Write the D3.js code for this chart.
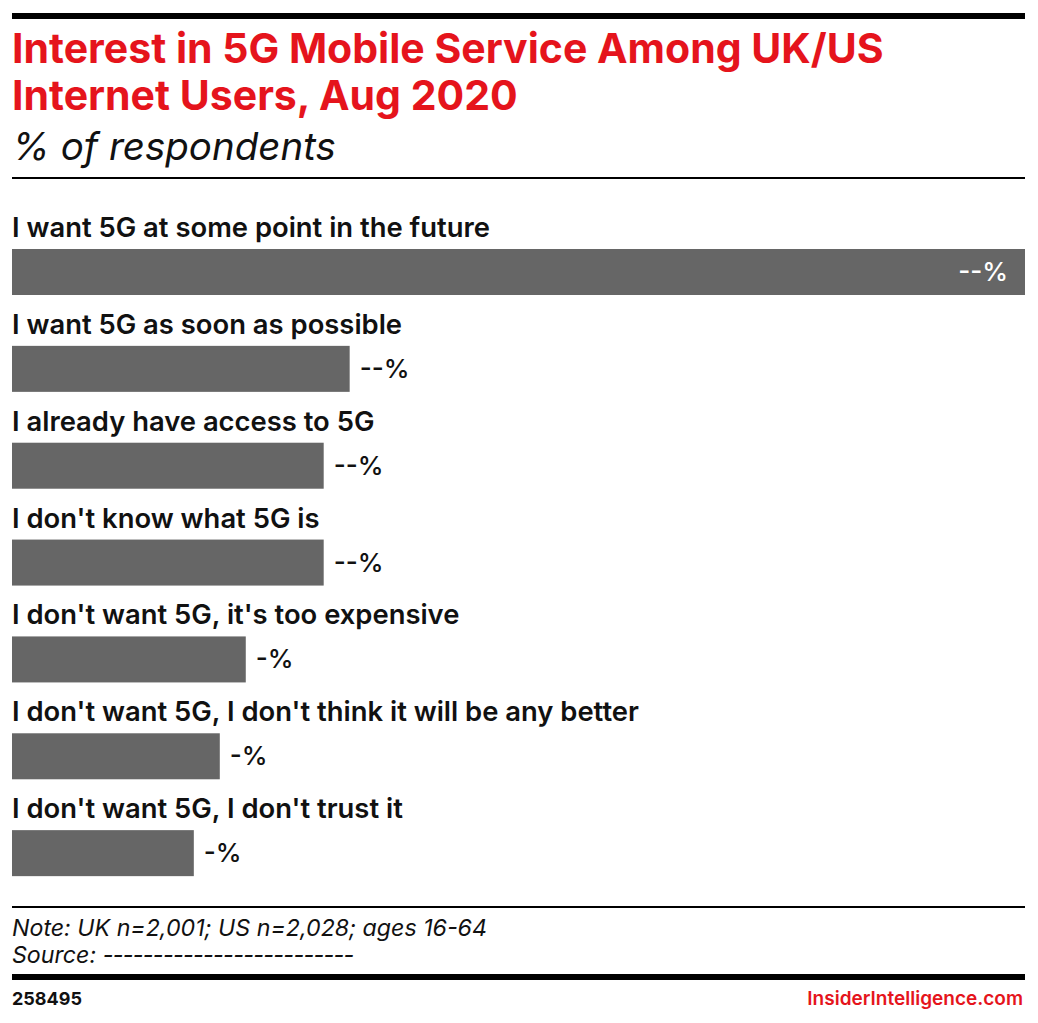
<!DOCTYPE html>
<html>
<head>
<meta charset="utf-8">
<script src="https://cdn.jsdelivr.net/npm/d3@7"></script>
<style>
  html, body { margin: 0; padding: 0; background: #fff; }
  svg { display: block; }
</style>
</head>
<body>
<script>
const categories = [
  "I want 5G at some point in the future",
  "I want 5G as soon as possible",
  "I already have access to 5G",
  "I don't know what 5G is",
  "I don't want 5G, it's too expensive",
  "I don't want 5G, I don't think it will be any better",
  "I don't want 5G, I don't trust it"
];
const values = [39, 13, 12, 12, 9, 8, 7];
const valueLabels = ["--%", "--%", "--%", "--%", "-%", "-%", "-%"];

const W = 1038, H = 1023;
const left = 12, right = 1025;
const font = "Inter, 'Noto Sans', sans-serif";
const red = "#e5141c";

const svg = d3.select("body").append("svg").attr("width", W).attr("height", H);

// top rule
svg.append("rect").attr("x", left).attr("y", 13).attr("width", right - left).attr("height", 6).attr("fill", "#000");

svg.append("text").attr("x", left).attr("y", 63)
  .attr("font-family", font).attr("font-weight", 700).attr("font-size", 41)
  .attr("fill", red)
  .text("Interest in 5G Mobile Service Among UK/US");
svg.append("text").attr("x", left).attr("y", 110)
  .attr("font-family", font).attr("font-weight", 700).attr("font-size", 41)
  .attr("fill", red)
  .text("Internet Users, Aug 2020");
svg.append("text").attr("x", left).attr("y", 160)
  .attr("font-family", font).attr("font-style", "italic").attr("font-size", 38.5)
  .attr("fill", "#111")
  .text("% of respondents");

svg.append("rect").attr("x", left).attr("y", 177).attr("width", right - left).attr("height", 2).attr("fill", "#000");

// scales
const x = d3.scaleLinear().domain([0, d3.max(values)]).range([left, right]);
const y = d3.scaleBand().domain(categories).range([200, 878]).paddingInner(0);

const g = svg.append("g");
const rows = g.selectAll("g.row").data(categories).enter().append("g").attr("class", "row")
  .attr("transform", d => `translate(0,${y(d)})`);

rows.append("text")
  .attr("x", left).attr("y", 37)
  .attr("font-family", font).attr("font-weight", 600).attr("font-size", 27.4)
  .attr("fill", "#111")
  .text(d => d);

rows.append("rect")
  .attr("x", x(0)).attr("y", 49)
  .attr("width", (d, i) => x(values[i]) - x(0))
  .attr("height", 46)
  .attr("fill", "#666666");

rows.append("text")
  .attr("x", (d, i) => i === 0 ? x(values[i]) - 17 : x(values[i]) + 10)
  .attr("y", 81)
  .attr("text-anchor", (d, i) => i === 0 ? "end" : "start")
  .attr("font-family", font).attr("font-weight", 500).attr("font-size", 26)
  .attr("fill", (d, i) => i === 0 ? "#fff" : "#111")
  .text((d, i) => valueLabels[i]);

// footer
svg.append("rect").attr("x", left).attr("y", 906).attr("width", right - left).attr("height", 2).attr("fill", "#000");
svg.append("text").attr("x", left).attr("y", 936)
  .attr("font-family", font).attr("font-style", "italic").attr("font-size", 23.2)
  .attr("fill", "#111").text("Note: UK n=2,001; US n=2,028; ages 16-64");
const src = svg.append("text").attr("x", left).attr("y", 963)
  .attr("font-family", font).attr("font-style", "italic").attr("font-size", 23.2)
  .attr("fill", "#111");
src.append("tspan").text("Source: ");
src.append("tspan").attr("letter-spacing", -0.65).text("-------------------------");
svg.append("rect").attr("x", left).attr("y", 974).attr("width", right - left).attr("height", 6).attr("fill", "#000");
svg.append("text").attr("x", left).attr("y", 1005)
  .attr("font-family", font).attr("font-weight", 700).attr("font-size", 18)
  .attr("fill", "#111").text("258495");
svg.append("text").attr("x", 1023).attr("y", 1005).attr("text-anchor", "end")
  .attr("font-family", font).attr("font-weight", 600).attr("font-size", 19)
  .attr("fill", red).text("InsiderIntelligence.com");
</script>
</body>
</html>
